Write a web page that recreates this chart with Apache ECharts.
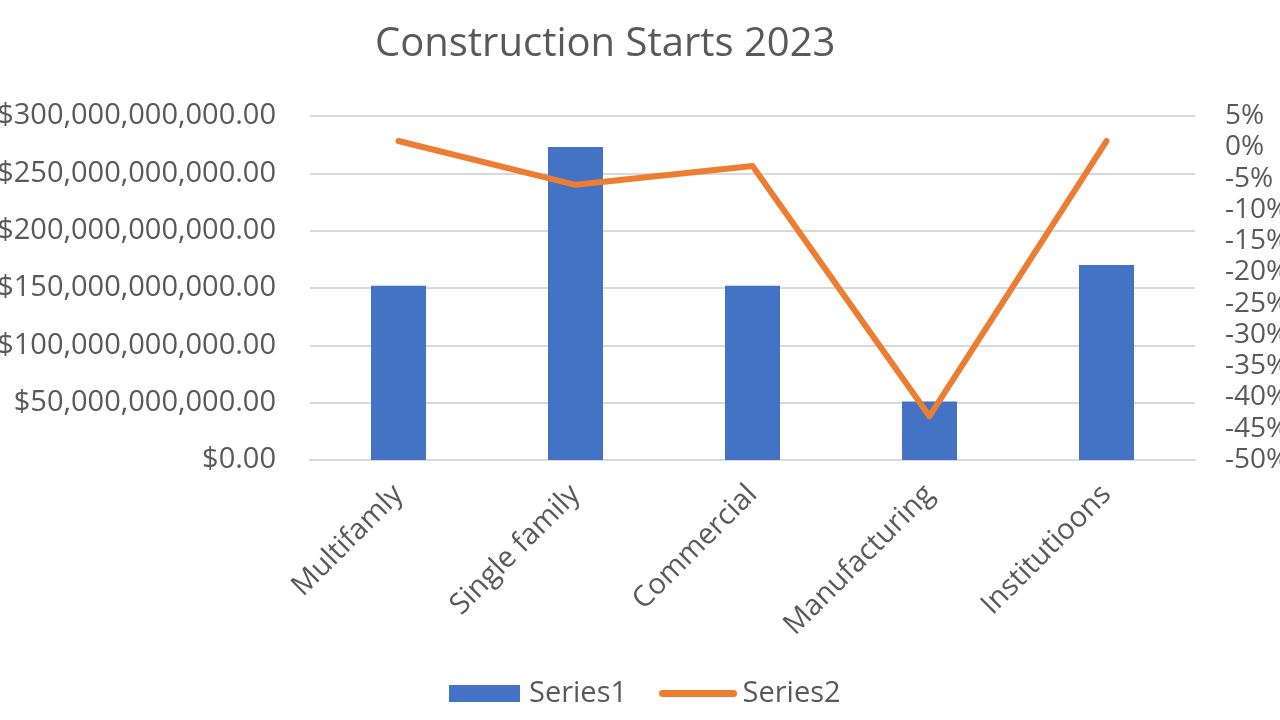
<!DOCTYPE html>
<html><head><meta charset="utf-8">
<script src="https://cdn.jsdelivr.net/npm/echarts@6/dist/echarts.min.js"></script>
<style>html,body{margin:0;padding:0;background:#fff}#c{width:1280px;height:720px}</style>
</head><body><div id="c"></div>
<script>
var categories = ['Multifamly', 'Single family', 'Commercial', 'Manufacturing', 'Institutioons'];
var series1 = [152e9, 273e9, 152e9, 51e9, 170e9];
var series2 = [1, -6, -3, -43, 1];
var seriesNames = ['Series1', 'Series2'];
var title = 'Construction Starts 2023';

function money(v) {
  var s = Math.round(v).toString().replace(/\B(?=(\d{3})+(?!\d))/g, ',');
  return '$' + s + '.00';
}
var FONT = 'Open Sans';
var GREY = '#595959';
var chart = echarts.init(document.getElementById('c'));
chart.setOption({
  animation: false,
  backgroundColor: '#fff',
  title: { text: title, left: 370, top: 20,
    textStyle: { fontFamily: FONT, fontSize: 40, fontWeight: 'normal', color: GREY } },
  legend: { bottom: 12, left: 449, padding: 0, itemWidth: 71, itemHeight: 17, itemGap: 32,
    textStyle: { fontFamily: FONT, fontSize: 29, color: GREY, padding: [0, 0, 0, 4] },
    data: [
      { name: seriesNames[0], icon: 'rect' },
      { name: seriesNames[1], itemStyle: { opacity: 0 }, lineStyle: { width: 7, cap: 'round', color: '#ED7D31' } }
    ] },
  grid: { left: 310, right: 85, top: 116, bottom: 260, containLabel: false, outerBoundsMode: 'none' },
  xAxis: { type: 'category', data: categories,
    axisLine: { show: true, lineStyle: { color: '#d9d9d9', width: 2 } },
    axisTick: { show: false },
    axisLabel: { rotate: 45, margin: 30, fontFamily: FONT, fontSize: 29, color: GREY, interval: 0 } },
  yAxis: [
    { type: 'value', min: 0, max: 300e9, interval: 50e9,
      axisLine: { show: false }, axisTick: { show: false },
      splitLine: { lineStyle: { color: '#d9d9d9', width: 2 } },
      axisLabel: { margin: 34, fontFamily: FONT, fontSize: 29, color: GREY, formatter: money } },
    { type: 'value', min: -50, max: 5, interval: 5, position: 'right',
      axisLine: { show: false }, axisTick: { show: false }, splitLine: { show: false },
      axisLabel: { margin: 30, fontFamily: FONT, fontSize: 28, color: GREY, formatter: '{value}%' } }
  ],
  series: [
    { name: seriesNames[0], type: 'bar', data: series1, barWidth: 55, yAxisIndex: 0,
      itemStyle: { color: '#4472C4' } },
    { name: seriesNames[1], type: 'line', data: series2, yAxisIndex: 1, symbol: 'none',
      lineStyle: { color: '#ED7D31', width: 6, cap: 'round', join: 'round' }, itemStyle: { color: '#ED7D31' } }
  ]
});
</script></body></html>
